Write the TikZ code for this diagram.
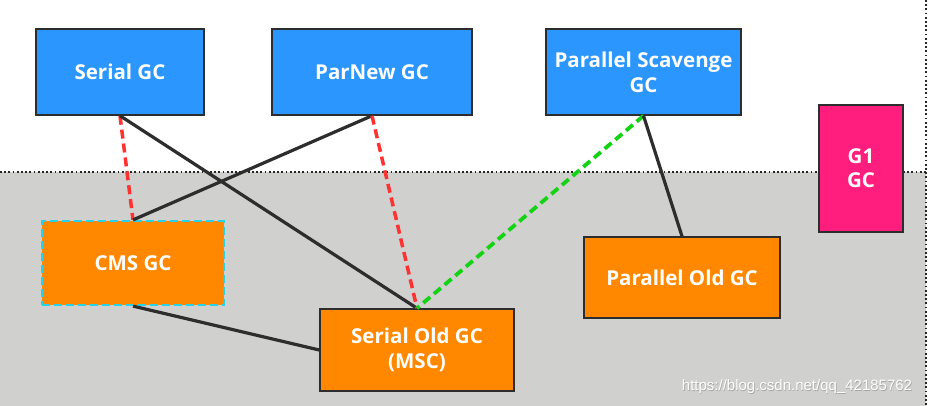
\documentclass[tikz,border=0pt]{standalone}
\usepackage{fontspec}
\setmainfont{Open Sans}
\newfontfamily\wmfont{Liberation Sans}
\definecolor{gcblue}{RGB}{44,150,255}
\definecolor{gcorange}{RGB}{255,136,0}
\definecolor{gcpink}{RGB}{255,30,125}
\definecolor{bggray}{RGB}{208,208,206}
\definecolor{edgegray}{RGB}{45,45,45}
\definecolor{reddash}{RGB}{255,50,50}
\definecolor{greendash}{RGB}{20,210,20}
\definecolor{cyanedge}{RGB}{40,210,230}
\tikzset{
  gcbox/.style={rectangle, draw=edgegray, line width=1.5pt, inner sep=0pt,
    text=white, font=\fontsize{20.5}{24}\selectfont\bfseries, align=center},
  young/.style={gcbox, fill=gcblue},
  old/.style={gcbox, fill=gcorange},
  g1box/.style={gcbox, fill=gcpink},
  cmsbox/.style={gcbox, fill=gcorange, draw=cyanedge, line width=2.2pt, dash pattern=on 8pt off 4pt},
  solidlink/.style={draw=edgegray, line width=3.2pt},
  redlink/.style={draw=reddash, line width=3.5pt, dash pattern=on 9pt off 5pt},
  greenlink/.style={draw=greendash, line width=3.8pt, dash pattern=on 9pt off 5pt},
  divider/.style={draw=black!85, line width=1.8pt, dash pattern=on 1.8pt off 2.4pt}
}
\begin{document}
\begin{tikzpicture}[x=1pt, y=-1pt]
\useasboundingbox (0,0) rectangle (928,406);
\fill[white] (0,0) rectangle (928,406);
\fill[bggray] (0,172) rectangle (926,406);
\coordinate (divL) at (0,172);
\coordinate (divR) at (926,172);
\draw[divider] (divL) -- (divR);
\coordinate (rimT) at (926,0);
\coordinate (rimB) at (926,406);
\draw[divider, line width=1.2pt] (rimT) -- (rimB);

\node[young, minimum width=168pt, minimum height=86pt] (serial) at (120,72) {Serial GC};
\node[young, minimum width=200pt, minimum height=86pt] (parnew) at (372,72) {ParNew GC};
\node[young, minimum width=195pt, minimum height=86pt] (ps) at (643.5,72) {Parallel Scavenge\\[1pt]GC};
\node[g1box, minimum width=84pt, minimum height=127pt] (g1) at (861,168.5) {G1\\[0pt]GC};
\node[cmsbox, minimum width=182pt, minimum height=84pt] (cms) at (133,263) {CMS GC};
\node[old, minimum width=194pt, minimum height=82pt] (sold) at (417,350) {Serial Old GC\\[1pt](MSC)};
\node[old, minimum width=196pt, minimum height=81pt] (pold) at (682,277.5) {Parallel Old GC};

\draw[redlink] (serial.south) -- (cms.north);
\draw[solidlink] (serial.south) -- (sold.north);
\draw[solidlink] (parnew.south) -- (cms.north);
\draw[redlink] (parnew.south) -- (sold.north);
\draw[greenlink] (ps.south) -- (sold.north);
\draw[solidlink] (ps.south) -- (pold.north);
\draw[solidlink] (cms.south) -- (sold.west);

\node[text=black!35, font=\wmfont\fontsize{15}{18}\selectfont] (wmshadow) at (797.6,387.6) {https://blog.csdn.net/qq\_42185762};
\node[text=white, font=\wmfont\fontsize{15}{18}\selectfont] (wm) at (797,387) {https://blog.csdn.net/qq\_42185762};
\end{tikzpicture}
\end{document}
